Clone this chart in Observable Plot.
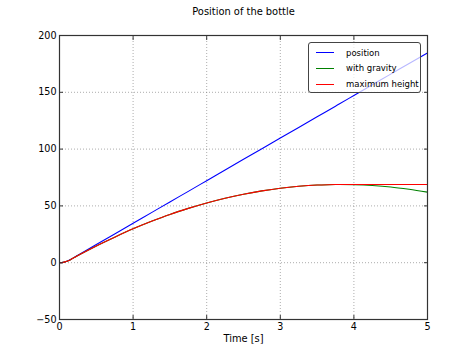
<!DOCTYPE html>
<html>
<head>
<meta charset="utf-8">
<script src="https://cdn.jsdelivr.net/npm/d3@7"></script>
<script src="https://cdn.jsdelivr.net/npm/@observablehq/plot@0.6"></script>
<style>
  html, body { margin: 0; padding: 0; background: #fff; }
  #wrap { position: relative; width: 474px; height: 355px; font-family: "DejaVu Sans", sans-serif; }
  #legend { position: absolute; left: 308px; top: 42px; width: 113px; height: 51px;
    border: 1px solid #444; border-radius: 3px; background: rgba(255,255,255,0.72);
    font-size: 8.5px; color: #000; box-sizing: border-box; }
  .row { position: absolute; left: 0; height: 12px; display: flex; align-items: center; }
  .sw { width: 18px; height: 0; border-top: 1px solid; margin-left: 7px; margin-right: 12px; }
</style>
</head>
<body>
<div id="wrap"></div>
<script>
const chartTitle = "Position of the bottle";
const xLabel = "Time [s]";
const seriesNames = ["position", "with gravity", "maximum height"];
const seriesColors = ["#0000ff", "#008000", "#ff0000"];
const time      = [0, 0.05, 0.1, 0.15, 0.2, 0.25, 0.5, 0.75, 1, 1.25, 1.5, 1.75, 2, 2.25, 2.5, 2.75, 3, 3.25, 3.5, 3.75, 3.8, 4, 4.25, 4.5, 4.75, 5];
const position  = [0, 0.3, 1.25, 2.8, 4.7, 6.6, 16, 25.3, 34.7, 44.1, 53.5, 62.8, 72.2, 81.6, 91, 100.3, 109.7, 119.1, 128.5, 137.8, 139.7, 147.2, 156.6, 166, 175.3, 184.7];
const gravity   = [0, 0.29, 1.2, 2.69, 4.5, 6.3, 14.8, 22.5, 29.8, 36.4, 42.5, 47.8, 52.6, 56.8, 60.3, 63.2, 65.6, 67.3, 68.4, 68.8, 68.9, 68.7, 68.0, 66.7, 64.6, 62.1];
const maxHeight = [0, 0.29, 1.2, 2.69, 4.5, 6.3, 14.8, 22.5, 29.8, 36.4, 42.5, 47.8, 52.6, 56.8, 60.3, 63.2, 65.6, 67.3, 68.4, 68.8, 68.9, 68.9, 68.9, 68.9, 68.9, 68.9];
const xTicks = [0, 1, 2, 3, 4, 5];
const yTicks = [-50, 0, 50, 100, 150, 200];

const seriesValues = [position, gravity, maxHeight];
const rows = seriesValues.flatMap((vals, s) => vals.map((v, i) => ({t: time[i], v, s: seriesNames[s]})));

const font = "DejaVu Sans, sans-serif";
const chart = Plot.plot({
  width: 474,
  height: 355,
  marginLeft: 59,
  marginRight: 47,
  marginTop: 35,
  marginBottom: 36,
  style: {fontFamily: font, fontSize: "9.6px", background: "#fff", color: "#000"},
  x: {domain: [0, 5]},
  y: {domain: [-50, 200]},
  marks: [
    Plot.gridX(xTicks, {stroke: "#777", strokeOpacity: 0.6, strokeDasharray: "1,2"}),
    Plot.gridY(yTicks, {stroke: "#777", strokeOpacity: 0.6, strokeDasharray: "1,2"}),
    ...seriesNames.map((name, s) =>
      Plot.line(rows.filter(d => d.s === name), {x: "t", y: "v", stroke: seriesColors[s], strokeWidth: 1.1, curve: "monotone-x"})),
    Plot.frame({stroke: "#333", strokeWidth: 1.2}),
    Plot.axisX(xTicks, {anchor: "bottom", tickSize: 0, tickPadding: 4, label: null, fontSize: 9.6, tickFormat: d => String(d)}),
    Plot.axisY(yTicks, {anchor: "left", tickSize: 0, tickPadding: 3, label: null, fontSize: 9.6}),
    Plot.axisX(xTicks, {anchor: "bottom", tickSize: -4, text: null, label: null, stroke: "#333"}),
    Plot.axisX(xTicks, {anchor: "top", tickSize: -4, text: null, label: null, stroke: "#333"}),
    Plot.axisY(yTicks, {anchor: "left", tickSize: -4, text: null, label: null, stroke: "#333"}),
    Plot.axisY(yTicks, {anchor: "right", tickSize: -4, text: null, label: null, stroke: "#333"}),
    Plot.text([chartTitle], {frameAnchor: "top", lineAnchor: "middle", dy: -23.5, fontSize: 9.9, fill: "#000"}),
    Plot.text([xLabel], {frameAnchor: "bottom", lineAnchor: "middle", dy: 19, fontSize: 9.9, fill: "#000"})
  ]
});

const wrap = document.getElementById("wrap");
wrap.appendChild(chart);
const legend = document.createElement("div");
legend.id = "legend";
seriesNames.forEach((name, i) => {
  const row = document.createElement("div");
  row.className = "row";
  row.style.top = (3.5 + i * 15.8) + "px";
  const sw = document.createElement("span");
  sw.className = "sw";
  sw.style.borderTopColor = seriesColors[i];
  const label = document.createElement("span");
  label.textContent = name;
  row.appendChild(sw);
  row.appendChild(label);
  legend.appendChild(row);
});
wrap.appendChild(legend);
</script>
</body>
</html>
